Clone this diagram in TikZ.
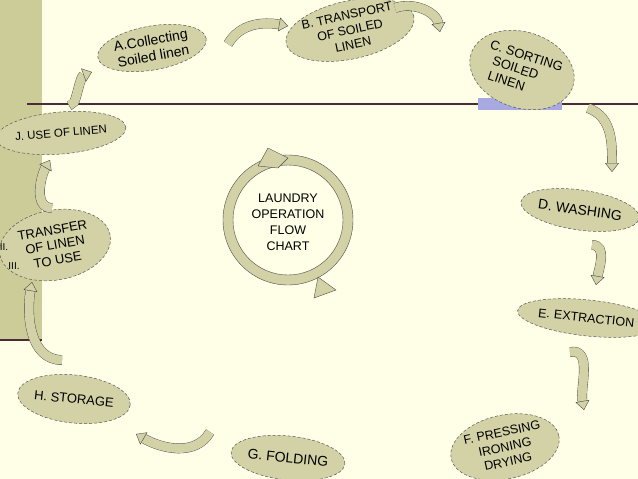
\documentclass[tikz,border=0pt]{standalone}
\usepackage{fontspec}
\setmainfont{Liberation Sans}
\usetikzlibrary{arrows.meta,shapes.geometric}
\definecolor{bg}{HTML}{FFFFE8}
\definecolor{ol}{HTML}{CCCC99}
\definecolor{olf}{HTML}{D2D2A6}
\definecolor{ln}{HTML}{4D2A3A}
\tikzset{
 stepell/.style={draw=gray!70!black,densely dashed,line width=0.5pt,fill=olf,ellipse,inner sep=0pt,align=center,font=\fontsize{14}{16}\selectfont},
 flow/.style={draw=gray!60!black,line width=0.4pt,double=olf,double distance=9pt,-{Triangle[length=9pt,width=14pt,fill=olf]}}
}
\begin{document}
\begin{tikzpicture}[x=1pt,y=-1pt]
\fill[bg] (0,0) rectangle (638,479);
\useasboundingbox (0,0) rectangle (638,479);
\fill[ol] (0,0) rectangle (42,340);
\draw[line width=1.5pt,color=ln] (27,104) -- (638,104);
\draw[line width=2pt,color=ln] (0,340) -- (42,340);
\fill[gray!50!blue!45] (478,98) rectangle (562,110);
% ellipses
\node[stepell,minimum width=110,minimum height=44,rotate=10] (A) at (152,48) {A.Collecting\\Soiled linen};
\node[stepell,minimum width=124,minimum height=58,rotate=12,font=\fontsize{12.5}{15}\selectfont] (B) at (350,30) {B. TRANSPORT\\OF SOILED\\LINEN};
\node[stepell,minimum width=96,minimum height=76,rotate=-18,align=left,font=\fontsize{13}{15}\selectfont] (C) at (522,70) {C. SORTING\\\ \ SOILED\\\ \ LINEN};
\node[stepell,minimum width=100,minimum height=40,rotate=-8] (D) at (580,210) {D. WASHING};
\node[stepell,minimum width=112,minimum height=36,rotate=-6,font=\fontsize{12.5}{13}\selectfont,text width=100pt,align=left] (E) at (588,318) {E. EXTRACTION};
\node[stepell,minimum width=100,minimum height=64,rotate=12,font=\fontsize{12.5}{15}\selectfont] (F) at (505,447) {F. PRESSING\\IRONING\\DRYING};
\node[stepell,minimum width=110,minimum height=44,rotate=-6] (G) at (288,458) {G. FOLDING};
\node[stepell,minimum width=96,minimum height=48,rotate=-6,font=\fontsize{13}{14}\selectfont] (H) at (74,399) {H. STORAGE};
\node[stepell,minimum width=112,minimum height=70,rotate=10,font=\fontsize{13}{15}\selectfont] (T) at (55,245) {TRANSFER\\OF LINEN\\TO USE};
\node[font=\fontsize{10}{10}\selectfont] (t2) at (4,247) {II.};
\node[font=\fontsize{10}{10}\selectfont] (t3) at (14,266) {III.};
\node[stepell,minimum width=100,minimum height=42,rotate=5,font=\fontsize{11.5}{12}\selectfont] (J) at (61,133) {J. USE OF LINEN};
% centre ring
\fill[olf,draw=gray!60!black,even odd rule] (288,220) circle (65) (288,220) circle (55);
\node[align=center,font=\fontsize{12.5}{16}\selectfont] (R) at (288,222) {LAUNDRY\\OPERATION\\FLOW\\CHART};
\fill[olf,draw=gray!60!black] (258,166) -- (268,148) -- (288,158) -- (278,168) -- cycle;
\fill[olf,draw=gray!60!black] (318,277) -- (336,290) -- (314,298) -- cycle;
% flow arrows
\draw[flow] (72,100) to[out=-80,in=200] (92,72);
\draw[flow] (228,44) to[out=60,in=170] (288,26);
\draw[flow] (395,8) to[out=20,in=100] (440,32);
\draw[flow] (588,108) to[out=-20,in=90] (612,172);
\draw[flow] (592,245) to[out=0,in=80] (596,285);
\draw[flow] (570,352) to[out=10,in=100] (584,410);
\draw[flow] (210,432) to[out=-120,in=-30] (136,434);
\draw[flow] (62,360) to[out=180,in=-100] (32,282);
\draw[flow] (52,208) to[out=180,in=-120] (50,160);
\end{tikzpicture}
\end{document}
